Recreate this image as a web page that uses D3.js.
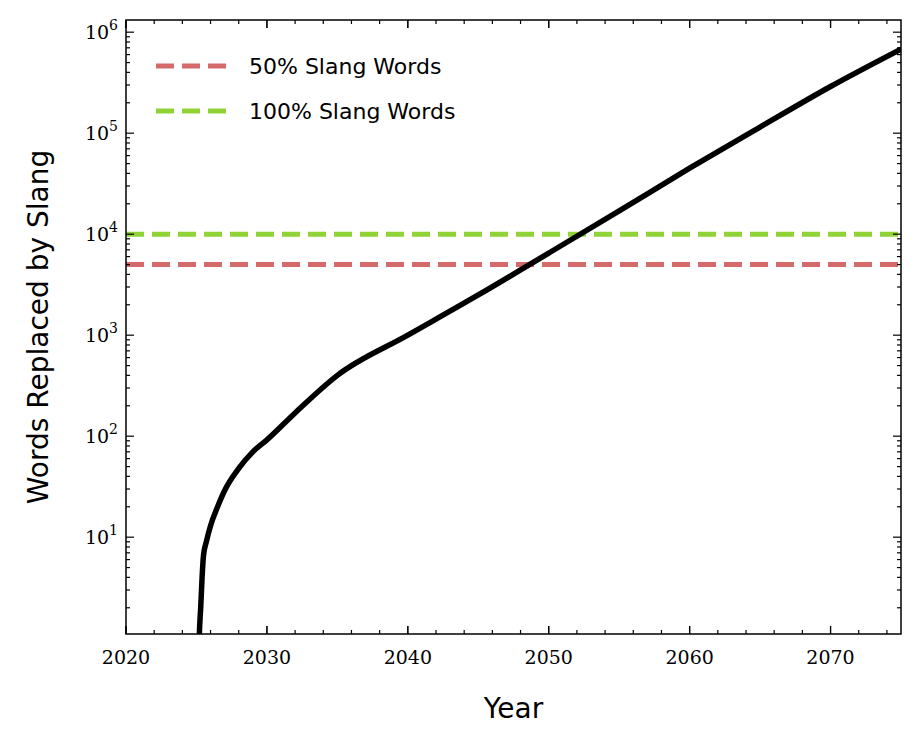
<!DOCTYPE html>
<html><head><meta charset="utf-8">
<script src="https://cdn.jsdelivr.net/npm/d3@7"></script>
<style>body{margin:0;background:#fff}</style>
</head><body><div class="container"></div>
<script>
var years = [2025.2, 2025.25, 2025.3, 2025.4, 2025.5, 2025.7, 2026, 2026.5, 2027, 2028, 2029, 2030, 2032, 2035, 2040, 2045, 2050, 2055, 2060, 2065, 2070, 2075];
var words = [1.0, 1.5, 2.0, 4.0, 6.6, 9, 13, 20, 29, 48, 70, 92, 170, 400, 1000, 2500, 6500, 17000, 45000, 115000, 290000, 680000];
var refLines = [{label: '50% Slang Words', value: 5000, color: '#d46a6a'},
                {label: '100% Slang Words', value: 10000, color: '#8fd336'}];
var xTicks = [2020, 2030, 2040, 2050, 2060, 2070];
var yExps = [1, 2, 3, 4, 5, 6];

var W = 921, H = 747, L = 126, R = 901, T = 20, B = 634;
var svg = d3.select('.container').append('svg').attr('width', W).attr('height', H);
var x = d3.scaleLinear().domain([2020, 2075]).range([L, R]);
var y = d3.scaleLog().domain([1.1, 1.32e6]).range([B, T]);

var clip = svg.append('clipPath').attr('id', 'c').append('rect')
    .attr('x', L).attr('y', T).attr('width', R - L).attr('height', B - T);
var g = svg.append('g').attr('clip-path', 'url(#c)');

refLines.forEach(function (r) {
    g.append('line').attr('x1', L).attr('x2', R).attr('y1', y(r.value)).attr('y2', y(r.value))
        .attr('stroke', r.color).attr('stroke-width', 5).attr('stroke-dasharray', '18,8');
});
var pts = years.map(function (d, i) { return [d, words[i]]; });
pts.unshift([2025.2, 0.9]);
g.append('path').datum(pts)
    .attr('d', d3.line().x(function (d) { return x(d[0]); }).y(function (d) { return y(d[1]); }).curve(d3.curveMonotoneX))
    .attr('fill', 'none').attr('stroke', '#000').attr('stroke-width', 5.5);

svg.append('rect').attr('x', L).attr('y', T).attr('width', R - L).attr('height', B - T)
    .attr('fill', 'none').attr('stroke', '#000').attr('stroke-width', 1.5);

// ticks
function tick(x1, y1, x2, y2) {
    svg.append('line').attr('x1', x1).attr('y1', y1).attr('x2', x2).attr('y2', y2)
        .attr('stroke', '#000').attr('stroke-width', 1.2);
}
for (var yr = 2020; yr <= 2075; yr += 2) {
    var major = xTicks.indexOf(yr) >= 0;
    var len = major ? 8 : 4;
    tick(x(yr), B, x(yr), B - len); tick(x(yr), T, x(yr), T + len);
}
xTicks.concat([]).forEach(function (yr) {
    tick(x(yr), B, x(yr), B - 8); tick(x(yr), T, x(yr), T + 8);
    svg.append('text').attr('x', x(yr)).attr('y', B + 30).attr('text-anchor', 'middle')
        .attr('font-family', 'DejaVu Serif').attr('font-size', 19).text(yr);
});
for (var e = 0; e <= 6; e++) {
    for (var m = 1; m < 10; m++) {
        var v = m * Math.pow(10, e);
        if (v < 1.1 || v > 1.32e6) continue;
        var ln = m === 1 ? 8 : 4;
        tick(L, y(v), L + ln, y(v)); tick(R, y(v), R - ln, y(v));
    }
}
yExps.forEach(function (p) {
    var t = svg.append('text').attr('x', L - 8).attr('y', y(Math.pow(10, p)) + 7)
        .attr('text-anchor', 'end').attr('font-family', 'DejaVu Serif').attr('font-size', 19);
    t.append('tspan').text('10');
    t.append('tspan').attr('dy', -9).attr('font-size', 14).text(p);
});

svg.append('text').attr('x', (L + R) / 2).attr('y', 718).attr('text-anchor', 'middle')
    .attr('font-family', 'DejaVu Sans').attr('font-size', 28).text('Year');
svg.append('text').attr('transform', 'translate(48,' + (T + B) / 2 + ') rotate(-90)')
    .attr('text-anchor', 'middle').attr('font-family', 'DejaVu Sans').attr('font-size', 28)
    .text('Words Replaced by Slang');

refLines.forEach(function (r, i) {
    var yy = 66 + i * 45;
    svg.append('line').attr('x1', 156).attr('x2', 228).attr('y1', yy).attr('y2', yy)
        .attr('stroke', r.color).attr('stroke-width', 5).attr('stroke-dasharray', '18,8');
    svg.append('text').attr('x', 249).attr('y', yy + 8).attr('font-family', 'DejaVu Sans')
        .attr('font-size', 22).text(r.label);
});
</script></body></html>
